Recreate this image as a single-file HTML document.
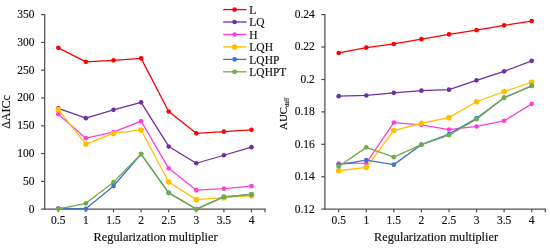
<!DOCTYPE html>
<html><head><meta charset="utf-8"><title>Regularization multiplier charts</title>
<style>
html,body{margin:0;padding:0;background:#fff;}
body{width:550px;height:248px;overflow:hidden;}
svg{display:block;}
text{font-family:"Liberation Serif","Times New Roman",serif;fill:#111;stroke:#111;stroke-width:0.16px;}
.t{font-size:11.5px;}
.a{font-size:12.3px;}
</style></head><body>
<svg width="550" height="248" viewBox="0 0 550 248">
<rect width="550" height="248" fill="#ffffff"/>
<g stroke="#505050" stroke-width="1.25" fill="none">
<line x1="44.7" y1="14.0" x2="44.7" y2="209.8"/>
<line x1="41.1" y1="209.2" x2="265.6" y2="209.2"/>
<line x1="41.1" y1="14.60" x2="44.7" y2="14.60"/>
<line x1="41.1" y1="42.40" x2="44.7" y2="42.40"/>
<line x1="41.1" y1="70.20" x2="44.7" y2="70.20"/>
<line x1="41.1" y1="98.00" x2="44.7" y2="98.00"/>
<line x1="41.1" y1="125.80" x2="44.7" y2="125.80"/>
<line x1="41.1" y1="153.60" x2="44.7" y2="153.60"/>
<line x1="41.1" y1="181.40" x2="44.7" y2="181.40"/>
<line x1="58.3" y1="209.2" x2="58.3" y2="212.3"/>
<line x1="85.9" y1="209.2" x2="85.9" y2="212.3"/>
<line x1="113.5" y1="209.2" x2="113.5" y2="212.3"/>
<line x1="141.1" y1="209.2" x2="141.1" y2="212.3"/>
<line x1="168.7" y1="209.2" x2="168.7" y2="212.3"/>
<line x1="196.3" y1="209.2" x2="196.3" y2="212.3"/>
<line x1="223.9" y1="209.2" x2="223.9" y2="212.3"/>
<line x1="251.5" y1="209.2" x2="251.5" y2="212.3"/>
<line x1="265.0" y1="209.2" x2="265.0" y2="212.3"/>
</g>
<text x="34.6" y="18.0" text-anchor="end" class="t">350</text>
<text x="34.6" y="45.8" text-anchor="end" class="t">300</text>
<text x="34.6" y="73.6" text-anchor="end" class="t">250</text>
<text x="34.6" y="101.4" text-anchor="end" class="t">200</text>
<text x="34.6" y="129.2" text-anchor="end" class="t">150</text>
<text x="34.6" y="157.0" text-anchor="end" class="t">100</text>
<text x="34.6" y="184.8" text-anchor="end" class="t">50</text>
<text x="34.6" y="212.6" text-anchor="end" class="t">0</text>
<text x="58.3" y="224.2" text-anchor="middle" class="t">0.5</text>
<text x="85.9" y="224.2" text-anchor="middle" class="t">1</text>
<text x="113.5" y="224.2" text-anchor="middle" class="t">1.5</text>
<text x="141.1" y="224.2" text-anchor="middle" class="t">2</text>
<text x="168.7" y="224.2" text-anchor="middle" class="t">2.5</text>
<text x="196.3" y="224.2" text-anchor="middle" class="t">3</text>
<text x="223.9" y="224.2" text-anchor="middle" class="t">3.5</text>
<text x="251.5" y="224.2" text-anchor="middle" class="t">4</text>
<g stroke="#505050" stroke-width="1.25" fill="none">
<line x1="324.9" y1="14.0" x2="324.9" y2="209.8"/>
<line x1="321.29999999999995" y1="209.2" x2="545.8000000000001" y2="209.2"/>
<line x1="321.29999999999995" y1="14.60" x2="324.9" y2="14.60"/>
<line x1="321.29999999999995" y1="47.03" x2="324.9" y2="47.03"/>
<line x1="321.29999999999995" y1="79.47" x2="324.9" y2="79.47"/>
<line x1="321.29999999999995" y1="111.90" x2="324.9" y2="111.90"/>
<line x1="321.29999999999995" y1="144.33" x2="324.9" y2="144.33"/>
<line x1="321.29999999999995" y1="176.77" x2="324.9" y2="176.77"/>
<line x1="338.7" y1="209.2" x2="338.7" y2="212.3"/>
<line x1="366.3" y1="209.2" x2="366.3" y2="212.3"/>
<line x1="393.8" y1="209.2" x2="393.8" y2="212.3"/>
<line x1="421.4" y1="209.2" x2="421.4" y2="212.3"/>
<line x1="449.0" y1="209.2" x2="449.0" y2="212.3"/>
<line x1="476.5" y1="209.2" x2="476.5" y2="212.3"/>
<line x1="504.1" y1="209.2" x2="504.1" y2="212.3"/>
<line x1="531.7" y1="209.2" x2="531.7" y2="212.3"/>
<line x1="545.2" y1="209.2" x2="545.2" y2="212.3"/>
</g>
<text x="314.8" y="18.0" text-anchor="end" class="t">0.24</text>
<text x="314.8" y="50.4" text-anchor="end" class="t">0.22</text>
<text x="314.8" y="82.9" text-anchor="end" class="t">0.2</text>
<text x="314.8" y="115.3" text-anchor="end" class="t">0.18</text>
<text x="314.8" y="147.7" text-anchor="end" class="t">0.16</text>
<text x="314.8" y="180.2" text-anchor="end" class="t">0.14</text>
<text x="314.8" y="212.6" text-anchor="end" class="t">0.12</text>
<text x="338.7" y="224.2" text-anchor="middle" class="t">0.5</text>
<text x="366.3" y="224.2" text-anchor="middle" class="t">1</text>
<text x="393.8" y="224.2" text-anchor="middle" class="t">1.5</text>
<text x="421.4" y="224.2" text-anchor="middle" class="t">2</text>
<text x="449.0" y="224.2" text-anchor="middle" class="t">2.5</text>
<text x="476.5" y="224.2" text-anchor="middle" class="t">3</text>
<text x="504.1" y="224.2" text-anchor="middle" class="t">3.5</text>
<text x="531.7" y="224.2" text-anchor="middle" class="t">4</text>
<polyline points="58.3,47.85 85.9,61.85 113.5,60.35 141.1,58.35 168.7,111.45 196.3,133.35 223.9,131.65 251.5,129.85" fill="none" stroke="#FF0000" stroke-width="1.3" stroke-linejoin="round"/>
<circle cx="58.3" cy="47.85" r="2.3" fill="#FF0000"/>
<circle cx="85.9" cy="61.85" r="2.3" fill="#FF0000"/>
<circle cx="113.5" cy="60.35" r="2.3" fill="#FF0000"/>
<circle cx="141.1" cy="58.35" r="2.3" fill="#FF0000"/>
<circle cx="168.7" cy="111.45" r="2.3" fill="#FF0000"/>
<circle cx="196.3" cy="133.35" r="2.3" fill="#FF0000"/>
<circle cx="223.9" cy="131.65" r="2.3" fill="#FF0000"/>
<circle cx="251.5" cy="129.85" r="2.3" fill="#FF0000"/>
<polyline points="58.3,108.35 85.9,118.15 113.5,109.85 141.1,102.35 168.7,146.45 196.3,163.25 223.9,155.25 251.5,147.15" fill="none" stroke="#7030A0" stroke-width="1.3" stroke-linejoin="round"/>
<circle cx="58.3" cy="108.35" r="2.3" fill="#7030A0"/>
<circle cx="85.9" cy="118.15" r="2.3" fill="#7030A0"/>
<circle cx="113.5" cy="109.85" r="2.3" fill="#7030A0"/>
<circle cx="141.1" cy="102.35" r="2.3" fill="#7030A0"/>
<circle cx="168.7" cy="146.45" r="2.3" fill="#7030A0"/>
<circle cx="196.3" cy="163.25" r="2.3" fill="#7030A0"/>
<circle cx="223.9" cy="155.25" r="2.3" fill="#7030A0"/>
<circle cx="251.5" cy="147.15" r="2.3" fill="#7030A0"/>
<polyline points="58.3,114.15 85.9,138.15 113.5,132.15 141.1,121.15 168.7,168.35 196.3,190.15 223.9,188.65 251.5,186.15" fill="none" stroke="#FF3FD6" stroke-width="1.3" stroke-linejoin="round"/>
<circle cx="58.3" cy="114.15" r="2.3" fill="#FF3FD6"/>
<circle cx="85.9" cy="138.15" r="2.3" fill="#FF3FD6"/>
<circle cx="113.5" cy="132.15" r="2.3" fill="#FF3FD6"/>
<circle cx="141.1" cy="121.15" r="2.3" fill="#FF3FD6"/>
<circle cx="168.7" cy="168.35" r="2.3" fill="#FF3FD6"/>
<circle cx="196.3" cy="190.15" r="2.3" fill="#FF3FD6"/>
<circle cx="223.9" cy="188.65" r="2.3" fill="#FF3FD6"/>
<circle cx="251.5" cy="186.15" r="2.3" fill="#FF3FD6"/>
<polyline points="58.3,109.65 85.9,144.05 113.5,133.45 141.1,129.95 168.7,181.95 196.3,199.65 223.9,197.65 251.5,195.65" fill="none" stroke="#FFC000" stroke-width="1.3" stroke-linejoin="round"/>
<circle cx="58.3" cy="109.65" r="2.8" fill="#FFC000"/>
<circle cx="85.9" cy="144.05" r="2.8" fill="#FFC000"/>
<circle cx="113.5" cy="133.45" r="2.8" fill="#FFC000"/>
<circle cx="141.1" cy="129.95" r="2.8" fill="#FFC000"/>
<circle cx="168.7" cy="181.95" r="2.8" fill="#FFC000"/>
<circle cx="196.3" cy="199.65" r="2.8" fill="#FFC000"/>
<circle cx="223.9" cy="197.65" r="2.8" fill="#FFC000"/>
<circle cx="251.5" cy="195.65" r="2.8" fill="#FFC000"/>
<polyline points="58.3,208.25 85.9,208.85 113.5,185.95 141.1,154.05 168.7,192.85 196.3,209.05 223.9,196.95 251.5,194.45" fill="none" stroke="#4472C4" stroke-width="1.3" stroke-linejoin="round"/>
<circle cx="58.3" cy="208.25" r="2.35" fill="#4472C4"/>
<circle cx="85.9" cy="208.85" r="2.35" fill="#4472C4"/>
<circle cx="113.5" cy="185.95" r="2.35" fill="#4472C4"/>
<circle cx="141.1" cy="154.05" r="2.35" fill="#4472C4"/>
<circle cx="168.7" cy="192.85" r="2.35" fill="#4472C4"/>
<circle cx="196.3" cy="209.05" r="2.35" fill="#4472C4"/>
<circle cx="223.9" cy="196.95" r="2.35" fill="#4472C4"/>
<circle cx="251.5" cy="194.45" r="2.35" fill="#4472C4"/>
<polyline points="58.3,208.85 85.9,203.35 113.5,182.15 141.1,154.05 168.7,192.85 196.3,209.05 223.9,196.95 251.5,194.45" fill="none" stroke="#70AD47" stroke-width="1.3" stroke-linejoin="round"/>
<circle cx="58.3" cy="208.85" r="2.35" fill="#70AD47"/>
<circle cx="85.9" cy="203.35" r="2.35" fill="#70AD47"/>
<circle cx="113.5" cy="182.15" r="2.35" fill="#70AD47"/>
<circle cx="141.1" cy="154.05" r="2.35" fill="#70AD47"/>
<circle cx="168.7" cy="192.85" r="2.35" fill="#70AD47"/>
<circle cx="196.3" cy="209.05" r="2.35" fill="#70AD47"/>
<circle cx="223.9" cy="196.95" r="2.35" fill="#70AD47"/>
<circle cx="251.5" cy="194.45" r="2.35" fill="#70AD47"/>
<polyline points="338.7,52.95 366.3,47.65 393.8,43.95 421.4,39.15 449.0,34.35 476.5,30.15 504.1,25.35 531.7,21.05" fill="none" stroke="#FF0000" stroke-width="1.3" stroke-linejoin="round"/>
<circle cx="338.7" cy="52.95" r="2.3" fill="#FF0000"/>
<circle cx="366.3" cy="47.65" r="2.3" fill="#FF0000"/>
<circle cx="393.8" cy="43.95" r="2.3" fill="#FF0000"/>
<circle cx="421.4" cy="39.15" r="2.3" fill="#FF0000"/>
<circle cx="449.0" cy="34.35" r="2.3" fill="#FF0000"/>
<circle cx="476.5" cy="30.15" r="2.3" fill="#FF0000"/>
<circle cx="504.1" cy="25.35" r="2.3" fill="#FF0000"/>
<circle cx="531.7" cy="21.05" r="2.3" fill="#FF0000"/>
<polyline points="338.7,96.15 366.3,95.45 393.8,92.85 421.4,90.65 449.0,89.65 476.5,80.35 504.1,71.35 531.7,60.85" fill="none" stroke="#7030A0" stroke-width="1.3" stroke-linejoin="round"/>
<circle cx="338.7" cy="96.15" r="2.3" fill="#7030A0"/>
<circle cx="366.3" cy="95.45" r="2.3" fill="#7030A0"/>
<circle cx="393.8" cy="92.85" r="2.3" fill="#7030A0"/>
<circle cx="421.4" cy="90.65" r="2.3" fill="#7030A0"/>
<circle cx="449.0" cy="89.65" r="2.3" fill="#7030A0"/>
<circle cx="476.5" cy="80.35" r="2.3" fill="#7030A0"/>
<circle cx="504.1" cy="71.35" r="2.3" fill="#7030A0"/>
<circle cx="531.7" cy="60.85" r="2.3" fill="#7030A0"/>
<polyline points="338.7,163.65 366.3,163.05 393.8,122.55 421.4,124.85 449.0,129.55 476.5,126.45 504.1,120.85 531.7,103.85" fill="none" stroke="#FF3FD6" stroke-width="1.3" stroke-linejoin="round"/>
<circle cx="338.7" cy="163.65" r="2.3" fill="#FF3FD6"/>
<circle cx="366.3" cy="163.05" r="2.3" fill="#FF3FD6"/>
<circle cx="393.8" cy="122.55" r="2.3" fill="#FF3FD6"/>
<circle cx="421.4" cy="124.85" r="2.3" fill="#FF3FD6"/>
<circle cx="449.0" cy="129.55" r="2.3" fill="#FF3FD6"/>
<circle cx="476.5" cy="126.45" r="2.3" fill="#FF3FD6"/>
<circle cx="504.1" cy="120.85" r="2.3" fill="#FF3FD6"/>
<circle cx="531.7" cy="103.85" r="2.3" fill="#FF3FD6"/>
<polyline points="338.7,170.75 366.3,167.35 393.8,130.55 421.4,123.25 449.0,117.65 476.5,101.75 504.1,91.55 531.7,82.25" fill="none" stroke="#FFC000" stroke-width="1.3" stroke-linejoin="round"/>
<circle cx="338.7" cy="170.75" r="2.8" fill="#FFC000"/>
<circle cx="366.3" cy="167.35" r="2.8" fill="#FFC000"/>
<circle cx="393.8" cy="130.55" r="2.8" fill="#FFC000"/>
<circle cx="421.4" cy="123.25" r="2.8" fill="#FFC000"/>
<circle cx="449.0" cy="117.65" r="2.8" fill="#FFC000"/>
<circle cx="476.5" cy="101.75" r="2.8" fill="#FFC000"/>
<circle cx="504.1" cy="91.55" r="2.8" fill="#FFC000"/>
<circle cx="531.7" cy="82.25" r="2.8" fill="#FFC000"/>
<polyline points="338.7,164.55 366.3,160.15 393.8,164.65 421.4,144.65 449.0,134.05 476.5,118.35 504.1,97.65 531.7,85.85" fill="none" stroke="#4472C4" stroke-width="1.3" stroke-linejoin="round"/>
<circle cx="338.7" cy="164.55" r="2.35" fill="#4472C4"/>
<circle cx="366.3" cy="160.15" r="2.35" fill="#4472C4"/>
<circle cx="393.8" cy="164.65" r="2.35" fill="#4472C4"/>
<circle cx="421.4" cy="144.65" r="2.35" fill="#4472C4"/>
<circle cx="449.0" cy="134.05" r="2.35" fill="#4472C4"/>
<circle cx="476.5" cy="118.35" r="2.35" fill="#4472C4"/>
<circle cx="504.1" cy="97.65" r="2.35" fill="#4472C4"/>
<circle cx="531.7" cy="85.85" r="2.35" fill="#4472C4"/>
<polyline points="338.7,166.45 366.3,147.35 393.8,157.15 421.4,144.65 449.0,135.25 476.5,119.15 504.1,97.85 531.7,85.95" fill="none" stroke="#70AD47" stroke-width="1.3" stroke-linejoin="round"/>
<circle cx="338.7" cy="166.45" r="2.35" fill="#70AD47"/>
<circle cx="366.3" cy="147.35" r="2.35" fill="#70AD47"/>
<circle cx="393.8" cy="157.15" r="2.35" fill="#70AD47"/>
<circle cx="421.4" cy="144.65" r="2.35" fill="#70AD47"/>
<circle cx="449.0" cy="135.25" r="2.35" fill="#70AD47"/>
<circle cx="476.5" cy="119.15" r="2.35" fill="#70AD47"/>
<circle cx="504.1" cy="97.85" r="2.35" fill="#70AD47"/>
<circle cx="531.7" cy="85.95" r="2.35" fill="#70AD47"/>
<line x1="223.2" y1="9.6" x2="246.5" y2="9.6" stroke="#FF0000" stroke-width="1.3"/>
<circle cx="234.6" cy="9.60" r="2.3" fill="#FF0000"/>
<text x="249.3" y="13.7" class="t">L</text>
<line x1="223.2" y1="22.0" x2="246.5" y2="22.0" stroke="#7030A0" stroke-width="1.3"/>
<circle cx="234.6" cy="22.05" r="2.3" fill="#7030A0"/>
<text x="249.3" y="26.1" class="t">LQ</text>
<line x1="223.2" y1="34.5" x2="246.5" y2="34.5" stroke="#FF3FD6" stroke-width="1.3"/>
<circle cx="234.6" cy="34.50" r="2.3" fill="#FF3FD6"/>
<text x="249.3" y="38.6" class="t">H</text>
<line x1="223.2" y1="46.9" x2="246.5" y2="46.9" stroke="#FFC000" stroke-width="1.3"/>
<circle cx="234.6" cy="46.95" r="2.8" fill="#FFC000"/>
<text x="249.3" y="51.0" class="t">LQH</text>
<line x1="223.2" y1="59.4" x2="246.5" y2="59.4" stroke="#4472C4" stroke-width="1.3"/>
<circle cx="234.6" cy="59.40" r="2.35" fill="#4472C4"/>
<text x="249.3" y="63.5" class="t">LQHP</text>
<line x1="223.2" y1="71.8" x2="246.5" y2="71.8" stroke="#70AD47" stroke-width="1.3"/>
<circle cx="234.6" cy="71.85" r="2.35" fill="#70AD47"/>
<text x="249.3" y="75.9" class="t">LQHPT</text>
<text x="155.6" y="240.8" text-anchor="middle" class="a">Regularization multiplier</text>
<text x="436" y="240.8" text-anchor="middle" class="a">Regularization multiplier</text>
<text transform="translate(10.3,112) rotate(-90)" text-anchor="middle" class="a" style="font-size:12px">ΔAICc</text>
<text transform="translate(287.3,129.9) rotate(-90)" text-anchor="start" class="a" style="font-size:10.8px">AUC<tspan dy="2" font-size="6.6">diff</tspan></text>
</svg>
</body></html>
